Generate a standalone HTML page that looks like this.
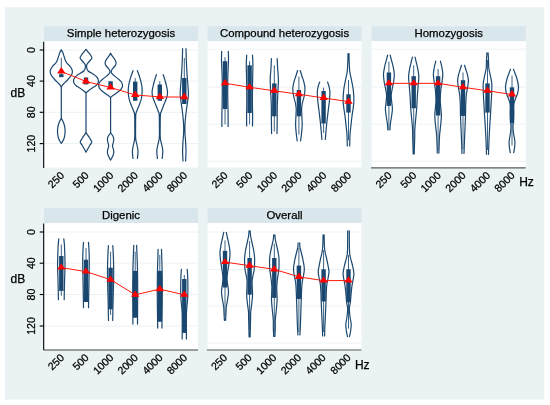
<!DOCTYPE html>
<html><head><meta charset="utf-8"><title>Audiogram violin plots</title>
<style>html,body{margin:0;padding:0;background:#fff}svg{display:block}</style></head>
<body>
<svg width="550" height="405" viewBox="0 0 550 405">
<rect x="0" y="0" width="550" height="405" fill="#ffffff"/>
<rect x="5" y="7.3" width="539.2" height="392.3" fill="#eaf2f3"/>
<rect x="44" y="26.2" width="154" height="15.000000000000004" fill="#d9e6eb"/>
<rect x="44" y="41.2" width="154" height="126.3" fill="#ffffff"/>
<line x1="44" y1="50" x2="198" y2="50" stroke="#ebf2f4" stroke-width="1"/>
<line x1="44" y1="81.1" x2="198" y2="81.1" stroke="#ebf2f4" stroke-width="1"/>
<line x1="44" y1="112.3" x2="198" y2="112.3" stroke="#ebf2f4" stroke-width="1"/>
<line x1="44" y1="143.6" x2="198" y2="143.6" stroke="#ebf2f4" stroke-width="1"/>
<text x="121.00" y="37.20" font-size="11.4" text-anchor="middle" fill="#000" font-family="'Liberation Sans', sans-serif" stroke="#000" stroke-width="0.25">Simple heterozygosis</text>
<line x1="61.30" y1="57.80" x2="61.30" y2="75.00" stroke="#1a476f" stroke-width="1.0" opacity="0.85"/>
<rect x="59.10" y="74.20" width="4.40" height="3.00" fill="#1a476f"/>
<path d="M61.30 49.80C61.07 50.22 60.29 51.42 59.90 52.30C59.51 53.18 59.25 54.18 58.95 55.10C58.65 56.02 58.39 56.88 58.10 57.80C57.81 58.72 57.63 59.67 57.20 60.60C56.77 61.53 56.25 62.48 55.50 63.40C54.75 64.32 53.47 65.18 52.70 66.10C51.93 67.02 51.32 67.97 50.90 68.90C50.48 69.83 50.20 70.78 50.20 71.70C50.20 72.62 50.48 73.48 50.90 74.40C51.32 75.32 52.00 76.27 52.70 77.20C53.40 78.13 54.25 79.08 55.10 80.00C55.95 80.92 57.00 81.90 57.80 82.70C58.60 83.50 59.32 84.10 59.90 84.80C60.48 85.50 61.07 86.55 61.30 86.90M61.30 49.80C61.53 50.22 62.31 51.42 62.70 52.30C63.09 53.18 63.35 54.18 63.65 55.10C63.95 56.02 64.21 56.88 64.50 57.80C64.79 58.72 64.97 59.67 65.40 60.60C65.83 61.53 66.35 62.48 67.10 63.40C67.85 64.32 69.13 65.18 69.90 66.10C70.67 67.02 71.28 67.97 71.70 68.90C72.12 69.83 72.40 70.78 72.40 71.70C72.40 72.62 72.12 73.48 71.70 74.40C71.28 75.32 70.60 76.27 69.90 77.20C69.20 78.13 68.35 79.08 67.50 80.00C66.65 80.92 65.60 81.90 64.80 82.70C64.00 83.50 63.28 84.10 62.70 84.80C62.12 85.50 61.53 86.55 61.30 86.90" fill="none" stroke="#1a476f" stroke-width="1.2" stroke-linecap="round"/>
<path d="M61.30 86.90C61.30 92.15 61.30 113.15 61.30 118.40M61.30 86.90C61.30 92.15 61.30 113.15 61.30 118.40" fill="none" stroke="#1a476f" stroke-width="1.2" stroke-linecap="round"/>
<path d="M61.30 118.40C61.05 118.83 60.25 120.07 59.80 121.00C59.35 121.93 58.93 122.92 58.60 124.00C58.27 125.08 57.98 126.28 57.80 127.50C57.62 128.72 57.50 130.05 57.50 131.30C57.50 132.55 57.62 133.80 57.80 135.00C57.98 136.20 58.25 137.45 58.60 138.50C58.95 139.55 59.45 140.50 59.90 141.30C60.35 142.10 61.07 142.97 61.30 143.30M61.30 118.40C61.55 118.83 62.35 120.07 62.80 121.00C63.25 121.93 63.67 122.92 64.00 124.00C64.33 125.08 64.62 126.28 64.80 127.50C64.98 128.72 65.10 130.05 65.10 131.30C65.10 132.55 64.98 133.80 64.80 135.00C64.62 136.20 64.35 137.45 64.00 138.50C63.65 139.55 63.15 140.50 62.70 141.30C62.25 142.10 61.53 142.97 61.30 143.30" fill="none" stroke="#1a476f" stroke-width="1.2" stroke-linecap="round"/>
<rect x="83.80" y="77.50" width="4.40" height="6.90" fill="#1a476f"/>
<path d="M86.00 49.30C85.70 49.68 84.88 50.75 84.20 51.60C83.52 52.45 82.58 53.40 81.90 54.40C81.22 55.40 80.18 56.68 80.10 57.60C80.02 58.52 80.78 59.05 81.40 59.90C82.02 60.75 83.17 61.90 83.80 62.70C84.43 63.50 84.95 63.85 85.20 64.70C85.45 65.55 85.53 66.75 85.30 67.80C85.07 68.85 84.57 70.13 83.80 71.00C83.03 71.87 81.78 72.32 80.70 73.00C79.62 73.68 78.33 74.28 77.30 75.10C76.27 75.92 75.12 76.98 74.50 77.90C73.88 78.82 73.72 79.80 73.60 80.60C73.48 81.40 73.42 81.88 73.80 82.70C74.18 83.52 74.85 84.58 75.90 85.50C76.95 86.42 78.78 87.28 80.10 88.20C81.42 89.12 82.82 90.25 83.80 91.00C84.78 91.75 85.63 92.42 86.00 92.70M86.00 49.30C86.30 49.68 87.12 50.75 87.80 51.60C88.48 52.45 89.42 53.40 90.10 54.40C90.78 55.40 91.82 56.68 91.90 57.60C91.98 58.52 91.22 59.05 90.60 59.90C89.98 60.75 88.83 61.90 88.20 62.70C87.57 63.50 87.05 63.85 86.80 64.70C86.55 65.55 86.47 66.75 86.70 67.80C86.93 68.85 87.43 70.13 88.20 71.00C88.97 71.87 90.22 72.32 91.30 73.00C92.38 73.68 93.67 74.28 94.70 75.10C95.73 75.92 96.88 76.98 97.50 77.90C98.12 78.82 98.28 79.80 98.40 80.60C98.52 81.40 98.58 81.88 98.20 82.70C97.82 83.52 97.15 84.58 96.10 85.50C95.05 86.42 93.22 87.28 91.90 88.20C90.58 89.12 89.18 90.25 88.20 91.00C87.22 91.75 86.37 92.42 86.00 92.70" fill="none" stroke="#1a476f" stroke-width="1.2" stroke-linecap="round"/>
<path d="M86.00 92.70C86.00 99.40 86.00 126.20 86.00 132.90M86.00 92.70C86.00 99.40 86.00 126.20 86.00 132.90" fill="none" stroke="#1a476f" stroke-width="1.2" stroke-linecap="round"/>
<path d="M86.00 132.90C85.73 133.25 85.00 134.15 84.40 135.00C83.80 135.85 83.10 136.83 82.40 138.00C81.70 139.17 80.27 140.83 80.20 142.00C80.13 143.17 81.42 144.00 82.00 145.00C82.58 146.00 83.18 147.08 83.70 148.00C84.22 148.92 84.72 149.82 85.10 150.50C85.48 151.18 85.85 151.83 86.00 152.10M86.00 132.90C86.27 133.25 87.00 134.15 87.60 135.00C88.20 135.85 88.90 136.83 89.60 138.00C90.30 139.17 91.73 140.83 91.80 142.00C91.87 143.17 90.58 144.00 90.00 145.00C89.42 146.00 88.82 147.08 88.30 148.00C87.78 148.92 87.28 149.82 86.90 150.50C86.52 151.18 86.15 151.83 86.00 152.10" fill="none" stroke="#1a476f" stroke-width="1.2" stroke-linecap="round"/>
<rect x="108.40" y="81.30" width="4.40" height="7.60" fill="#1a476f"/>
<path d="M110.60 53.20C110.37 53.62 109.78 54.83 109.20 55.70C108.62 56.57 107.72 57.48 107.10 58.40C106.48 59.32 105.83 60.38 105.50 61.20C105.17 62.02 105.05 62.60 105.10 63.30C105.15 64.00 105.30 64.60 105.80 65.40C106.30 66.20 107.47 67.30 108.10 68.10C108.73 68.90 109.30 69.50 109.60 70.20C109.90 70.90 110.08 71.62 109.90 72.30C109.72 72.98 109.12 73.62 108.50 74.30C107.88 74.98 107.18 75.58 106.20 76.40C105.22 77.22 103.67 78.27 102.60 79.20C101.53 80.13 100.43 81.08 99.80 82.00C99.17 82.92 98.97 83.90 98.80 84.70C98.63 85.50 98.50 85.98 98.80 86.80C99.10 87.62 99.78 88.68 100.60 89.60C101.42 90.52 102.53 91.38 103.70 92.30C104.87 93.22 106.45 94.25 107.60 95.10C108.75 95.95 110.10 97.02 110.60 97.40M110.60 53.20C110.83 53.62 111.42 54.83 112.00 55.70C112.58 56.57 113.48 57.48 114.10 58.40C114.72 59.32 115.37 60.38 115.70 61.20C116.03 62.02 116.15 62.60 116.10 63.30C116.05 64.00 115.90 64.60 115.40 65.40C114.90 66.20 113.73 67.30 113.10 68.10C112.47 68.90 111.90 69.50 111.60 70.20C111.30 70.90 111.12 71.62 111.30 72.30C111.48 72.98 112.08 73.62 112.70 74.30C113.32 74.98 114.02 75.58 115.00 76.40C115.98 77.22 117.53 78.27 118.60 79.20C119.67 80.13 120.77 81.08 121.40 82.00C122.03 82.92 122.23 83.90 122.40 84.70C122.57 85.50 122.70 85.98 122.40 86.80C122.10 87.62 121.42 88.68 120.60 89.60C119.78 90.52 118.67 91.38 117.50 92.30C116.33 93.22 114.75 94.25 113.60 95.10C112.45 95.95 111.10 97.02 110.60 97.40" fill="none" stroke="#1a476f" stroke-width="1.2" stroke-linecap="round"/>
<path d="M110.60 97.40C110.60 103.32 110.60 126.98 110.60 132.90M110.60 97.40C110.60 103.32 110.60 126.98 110.60 132.90" fill="none" stroke="#1a476f" stroke-width="1.2" stroke-linecap="round"/>
<path d="M110.60 132.90C110.40 133.17 109.82 133.90 109.40 134.50C108.98 135.10 108.43 135.70 108.10 136.50C107.77 137.30 107.43 138.30 107.40 139.30C107.37 140.30 107.68 141.43 107.90 142.50C108.12 143.57 108.70 144.62 108.70 145.70C108.70 146.78 108.12 147.93 107.90 149.00C107.68 150.07 107.38 151.10 107.40 152.10C107.42 153.10 107.67 154.02 108.00 155.00C108.33 155.98 108.97 157.15 109.40 158.00C109.83 158.85 110.40 159.75 110.60 160.10M110.60 132.90C110.80 133.17 111.38 133.90 111.80 134.50C112.22 135.10 112.77 135.70 113.10 136.50C113.43 137.30 113.77 138.30 113.80 139.30C113.83 140.30 113.52 141.43 113.30 142.50C113.08 143.57 112.50 144.62 112.50 145.70C112.50 146.78 113.08 147.93 113.30 149.00C113.52 150.07 113.82 151.10 113.80 152.10C113.78 153.10 113.53 154.02 113.20 155.00C112.87 155.98 112.23 157.15 111.80 158.00C111.37 158.85 110.80 159.75 110.60 160.10" fill="none" stroke="#1a476f" stroke-width="1.2" stroke-linecap="round"/>
<line x1="135.20" y1="78.10" x2="135.20" y2="100.00" stroke="#1a476f" stroke-width="1.0" opacity="0.85"/>
<rect x="133.00" y="81.70" width="4.40" height="19.10" fill="#1a476f"/>
<path d="M133.10 70.60C132.90 71.12 132.33 72.50 131.90 73.70C131.47 74.90 130.92 76.42 130.50 77.80C130.08 79.18 129.75 80.38 129.40 82.00C129.05 83.62 128.58 85.67 128.40 87.50C128.22 89.33 128.20 91.17 128.30 93.00C128.40 94.83 128.65 96.83 129.00 98.50C129.35 100.17 129.90 101.58 130.40 103.00C130.90 104.42 131.47 105.67 132.00 107.00C132.53 108.33 133.17 109.77 133.60 111.00C134.03 112.23 134.40 111.90 134.60 114.40C134.80 116.90 134.78 121.98 134.80 126.00C134.82 130.02 134.93 135.33 134.70 138.50C134.47 141.67 133.78 142.87 133.40 145.00C133.02 147.13 132.47 149.05 132.40 151.30C132.33 153.55 132.90 157.30 133.00 158.50M137.30 70.60C137.50 71.12 138.07 72.50 138.50 73.70C138.93 74.90 139.48 76.42 139.90 77.80C140.32 79.18 140.65 80.38 141.00 82.00C141.35 83.62 141.82 85.67 142.00 87.50C142.18 89.33 142.20 91.17 142.10 93.00C142.00 94.83 141.75 96.83 141.40 98.50C141.05 100.17 140.50 101.58 140.00 103.00C139.50 104.42 138.93 105.67 138.40 107.00C137.87 108.33 137.23 109.77 136.80 111.00C136.37 112.23 136.00 111.90 135.80 114.40C135.60 116.90 135.62 121.98 135.60 126.00C135.58 130.02 135.47 135.33 135.70 138.50C135.93 141.67 136.62 142.87 137.00 145.00C137.38 147.13 137.93 149.05 138.00 151.30C138.07 153.55 137.50 157.30 137.40 158.50" fill="none" stroke="#1a476f" stroke-width="1.2" stroke-linecap="round"/>
<line x1="159.80" y1="81.30" x2="159.80" y2="100.00" stroke="#1a476f" stroke-width="1.0" opacity="0.85"/>
<rect x="157.60" y="84.50" width="4.40" height="16.30" fill="#1a476f"/>
<path d="M156.40 74.60C156.22 75.17 155.68 76.77 155.30 78.00C154.92 79.23 154.47 80.67 154.10 82.00C153.73 83.33 153.43 84.38 153.10 86.00C152.77 87.62 152.20 90.03 152.10 91.70C152.00 93.37 152.22 94.62 152.50 96.00C152.78 97.38 153.32 98.67 153.80 100.00C154.28 101.33 154.87 102.67 155.40 104.00C155.93 105.33 156.52 106.75 157.00 108.00C157.48 109.25 157.93 110.43 158.30 111.50C158.67 112.57 159.02 111.98 159.20 114.40C159.38 116.82 159.38 122.07 159.40 126.00C159.42 129.93 159.57 134.83 159.30 138.00C159.03 141.17 158.22 142.83 157.80 145.00C157.38 147.17 156.87 148.75 156.80 151.00C156.73 153.25 157.30 157.25 157.40 158.50M163.20 74.60C163.38 75.17 163.92 76.77 164.30 78.00C164.68 79.23 165.13 80.67 165.50 82.00C165.87 83.33 166.17 84.38 166.50 86.00C166.83 87.62 167.40 90.03 167.50 91.70C167.60 93.37 167.38 94.62 167.10 96.00C166.82 97.38 166.28 98.67 165.80 100.00C165.32 101.33 164.73 102.67 164.20 104.00C163.67 105.33 163.08 106.75 162.60 108.00C162.12 109.25 161.67 110.43 161.30 111.50C160.93 112.57 160.58 111.98 160.40 114.40C160.22 116.82 160.22 122.07 160.20 126.00C160.18 129.93 160.03 134.83 160.30 138.00C160.57 141.17 161.38 142.83 161.80 145.00C162.22 147.17 162.73 148.75 162.80 151.00C162.87 153.25 162.30 157.25 162.20 158.50" fill="none" stroke="#1a476f" stroke-width="1.2" stroke-linecap="round"/>
<line x1="184.30" y1="58.00" x2="184.30" y2="104.00" stroke="#1a476f" stroke-width="1.0" opacity="0.85"/>
<rect x="182.10" y="78.00" width="4.40" height="26.00" fill="#1a476f"/>
<path d="M182.60 48.70C182.55 50.58 182.48 55.62 182.30 60.00C182.12 64.38 181.85 69.50 181.50 75.00C181.15 80.50 180.32 88.83 180.20 93.00C180.08 97.17 180.47 97.17 180.80 100.00C181.13 102.83 181.78 106.67 182.20 110.00C182.62 113.33 183.05 117.17 183.30 120.00C183.55 122.83 183.65 124.67 183.70 127.00C183.75 129.33 183.70 131.83 183.60 134.00C183.50 136.17 183.27 137.17 183.10 140.00C182.93 142.83 182.62 147.50 182.60 151.00C182.58 154.50 182.93 159.33 183.00 161.00M186.00 48.70C186.05 50.58 186.12 55.62 186.30 60.00C186.48 64.38 186.75 69.50 187.10 75.00C187.45 80.50 188.28 88.83 188.40 93.00C188.52 97.17 188.13 97.17 187.80 100.00C187.47 102.83 186.82 106.67 186.40 110.00C185.98 113.33 185.55 117.17 185.30 120.00C185.05 122.83 184.95 124.67 184.90 127.00C184.85 129.33 184.90 131.83 185.00 134.00C185.10 136.17 185.33 137.17 185.50 140.00C185.67 142.83 185.98 147.50 186.00 151.00C186.02 154.50 185.67 159.33 185.60 161.00" fill="none" stroke="#1a476f" stroke-width="1.2" stroke-linecap="round"/>
<polyline points="61.30,71.52 86.00,81.48 110.60,87.52 135.20,94.95 159.80,96.92 184.30,97.12" fill="none" stroke="#ff1a0a" stroke-width="1.0"/>
<polygon points="61.30,67.10 57.10,73.60 65.50,73.60" fill="#ff0000"/>
<polygon points="86.00,77.20 81.80,83.50 90.20,83.50" fill="#ff0000"/>
<polygon points="110.60,83.30 106.40,89.50 114.80,89.50" fill="#ff0000"/>
<polygon points="135.20,90.60 131.00,97.00 139.40,97.00" fill="#ff0000"/>
<polygon points="159.80,92.50 155.60,99.00 164.00,99.00" fill="#ff0000"/>
<polygon points="184.30,92.50 180.10,99.30 188.50,99.30" fill="#ff0000"/>
<line x1="43.7" y1="41.7" x2="43.7" y2="168.0" stroke="#000" stroke-width="1.1"/>
<line x1="39.7" y1="50" x2="44" y2="50" stroke="#000" stroke-width="1.1"/>
<text transform="translate(34.50 50.00) rotate(-90)" font-size="10.6" text-anchor="middle" fill="#000" font-family="'Liberation Sans', sans-serif" stroke="#000" stroke-width="0.25">0</text>
<line x1="39.7" y1="81.1" x2="44" y2="81.1" stroke="#000" stroke-width="1.1"/>
<text transform="translate(34.50 81.10) rotate(-90)" font-size="10.6" text-anchor="middle" fill="#000" font-family="'Liberation Sans', sans-serif" stroke="#000" stroke-width="0.25">40</text>
<line x1="39.7" y1="112.3" x2="44" y2="112.3" stroke="#000" stroke-width="1.1"/>
<text transform="translate(34.50 112.30) rotate(-90)" font-size="10.6" text-anchor="middle" fill="#000" font-family="'Liberation Sans', sans-serif" stroke="#000" stroke-width="0.25">80</text>
<line x1="39.7" y1="143.6" x2="44" y2="143.6" stroke="#000" stroke-width="1.1"/>
<text transform="translate(34.50 143.60) rotate(-90)" font-size="10.6" text-anchor="middle" fill="#000" font-family="'Liberation Sans', sans-serif" stroke="#000" stroke-width="0.25">120</text>
<text x="10.5" y="97" font-size="12" fill="#000" font-family="'Liberation Sans', sans-serif" stroke="#000" stroke-width="0.25">dB</text>
<text transform="translate(64.80 176.20) rotate(-45)" font-size="10.6" text-anchor="end" fill="#000" font-family="'Liberation Sans', sans-serif" stroke="#000" stroke-width="0.25">250</text>
<text transform="translate(89.50 176.20) rotate(-45)" font-size="10.6" text-anchor="end" fill="#000" font-family="'Liberation Sans', sans-serif" stroke="#000" stroke-width="0.25">500</text>
<text transform="translate(114.10 176.20) rotate(-45)" font-size="10.6" text-anchor="end" fill="#000" font-family="'Liberation Sans', sans-serif" stroke="#000" stroke-width="0.25">1000</text>
<text transform="translate(138.70 176.20) rotate(-45)" font-size="10.6" text-anchor="end" fill="#000" font-family="'Liberation Sans', sans-serif" stroke="#000" stroke-width="0.25">2000</text>
<text transform="translate(163.30 176.20) rotate(-45)" font-size="10.6" text-anchor="end" fill="#000" font-family="'Liberation Sans', sans-serif" stroke="#000" stroke-width="0.25">4000</text>
<text transform="translate(187.80 176.20) rotate(-45)" font-size="10.6" text-anchor="end" fill="#000" font-family="'Liberation Sans', sans-serif" stroke="#000" stroke-width="0.25">8000</text>
<rect x="207.6" y="26.2" width="153.79999999999998" height="15.000000000000004" fill="#d9e6eb"/>
<rect x="207.6" y="41.2" width="153.79999999999998" height="126.3" fill="#ffffff"/>
<line x1="207.6" y1="49.2" x2="361.4" y2="49.2" stroke="#ebf2f4" stroke-width="1"/>
<line x1="207.6" y1="87" x2="361.4" y2="87" stroke="#ebf2f4" stroke-width="1"/>
<line x1="207.6" y1="124.2" x2="361.4" y2="124.2" stroke="#ebf2f4" stroke-width="1"/>
<line x1="207.6" y1="161.3" x2="361.4" y2="161.3" stroke="#ebf2f4" stroke-width="1"/>
<text x="284.50" y="37.20" font-size="11.4" text-anchor="middle" fill="#000" font-family="'Liberation Sans', sans-serif" stroke="#000" stroke-width="0.25">Compound heterozygosis</text>
<line x1="225.00" y1="57.20" x2="225.00" y2="124.30" stroke="#1a476f" stroke-width="1.0" opacity="0.85"/>
<rect x="222.80" y="61.20" width="4.40" height="47.80" fill="#1a476f"/>
<path d="M221.70 51.30C221.67 52.75 221.43 56.22 221.50 60.00C221.57 63.78 221.97 69.83 222.10 74.00C222.23 78.17 222.28 80.67 222.30 85.00C222.32 89.33 222.27 95.00 222.20 100.00C222.13 105.00 221.95 110.60 221.90 115.00C221.85 119.40 221.90 124.50 221.90 126.40M228.30 51.30C228.33 52.75 228.57 56.22 228.50 60.00C228.43 63.78 228.03 69.83 227.90 74.00C227.77 78.17 227.72 80.67 227.70 85.00C227.68 89.33 227.73 95.00 227.80 100.00C227.87 105.00 228.05 110.60 228.10 115.00C228.15 119.40 228.10 124.50 228.10 126.40" fill="none" stroke="#1a476f" stroke-width="1.2" stroke-linecap="round"/>
<line x1="249.60" y1="61.20" x2="249.60" y2="124.30" stroke="#1a476f" stroke-width="1.0" opacity="0.85"/>
<rect x="247.40" y="65.30" width="4.40" height="47.70" fill="#1a476f"/>
<path d="M246.70 55.20C246.63 56.83 246.32 60.87 246.30 65.00C246.28 69.13 246.52 74.17 246.60 80.00C246.68 85.83 246.80 94.17 246.80 100.00C246.80 105.83 246.62 110.68 246.60 115.00C246.58 119.32 246.68 124.08 246.70 125.90M252.50 55.20C252.57 56.83 252.88 60.87 252.90 65.00C252.92 69.13 252.68 74.17 252.60 80.00C252.52 85.83 252.40 94.17 252.40 100.00C252.40 105.83 252.58 110.68 252.60 115.00C252.62 119.32 252.52 124.08 252.50 125.90" fill="none" stroke="#1a476f" stroke-width="1.2" stroke-linecap="round"/>
<line x1="274.30" y1="65.30" x2="274.30" y2="131.50" stroke="#1a476f" stroke-width="1.0" opacity="0.85"/>
<rect x="272.10" y="83.40" width="4.40" height="32.90" fill="#1a476f"/>
<path d="M271.40 58.50C271.33 60.08 271.20 64.58 271.00 68.00C270.80 71.42 270.27 75.33 270.20 79.00C270.13 82.67 270.42 85.67 270.60 90.00C270.78 94.33 271.17 100.00 271.30 105.00C271.43 110.00 271.35 115.23 271.40 120.00C271.45 124.77 271.57 131.33 271.60 133.60M277.20 58.50C277.27 60.08 277.40 64.58 277.60 68.00C277.80 71.42 278.33 75.33 278.40 79.00C278.47 82.67 278.18 85.67 278.00 90.00C277.82 94.33 277.43 100.00 277.30 105.00C277.17 110.00 277.25 115.23 277.20 120.00C277.15 124.77 277.03 131.33 277.00 133.60" fill="none" stroke="#1a476f" stroke-width="1.2" stroke-linecap="round"/>
<line x1="298.90" y1="76.50" x2="298.90" y2="134.70" stroke="#1a476f" stroke-width="1.0" opacity="0.85"/>
<rect x="296.70" y="90.00" width="4.40" height="26.30" fill="#1a476f"/>
<path d="M297.60 70.50C297.32 71.42 296.52 74.08 295.90 76.00C295.28 77.92 294.42 79.92 293.90 82.00C293.38 84.08 292.85 86.17 292.80 88.50C292.75 90.83 293.17 93.58 293.60 96.00C294.03 98.42 294.97 100.83 295.40 103.00C295.83 105.17 296.12 106.67 296.20 109.00C296.28 111.33 296.00 114.33 295.90 117.00C295.80 119.67 295.55 122.33 295.60 125.00C295.65 127.67 295.93 130.37 296.20 133.00C296.47 135.63 297.03 139.50 297.20 140.80M300.20 70.50C300.48 71.42 301.28 74.08 301.90 76.00C302.52 77.92 303.38 79.92 303.90 82.00C304.42 84.08 304.95 86.17 305.00 88.50C305.05 90.83 304.63 93.58 304.20 96.00C303.77 98.42 302.83 100.83 302.40 103.00C301.97 105.17 301.68 106.67 301.60 109.00C301.52 111.33 301.80 114.33 301.90 117.00C302.00 119.67 302.25 122.33 302.20 125.00C302.15 127.67 301.87 130.37 301.60 133.00C301.33 135.63 300.77 139.50 300.60 140.80" fill="none" stroke="#1a476f" stroke-width="1.2" stroke-linecap="round"/>
<line x1="323.60" y1="87.70" x2="323.60" y2="133.00" stroke="#1a476f" stroke-width="1.0" opacity="0.85"/>
<rect x="321.40" y="91.00" width="4.40" height="32.50" fill="#1a476f"/>
<path d="M319.70 82.00C319.47 82.67 318.70 84.38 318.30 86.00C317.90 87.62 317.40 89.37 317.30 91.70C317.20 94.03 317.43 96.95 317.70 100.00C317.97 103.05 318.50 106.67 318.90 110.00C319.30 113.33 319.73 116.67 320.10 120.00C320.47 123.33 320.80 126.75 321.10 130.00C321.40 133.25 321.77 137.92 321.90 139.50M327.50 82.00C327.73 82.67 328.50 84.38 328.90 86.00C329.30 87.62 329.80 89.37 329.90 91.70C330.00 94.03 329.77 96.95 329.50 100.00C329.23 103.05 328.70 106.67 328.30 110.00C327.90 113.33 327.47 116.67 327.10 120.00C326.73 123.33 326.40 126.75 326.10 130.00C325.80 133.25 325.43 137.92 325.30 139.50" fill="none" stroke="#1a476f" stroke-width="1.2" stroke-linecap="round"/>
<line x1="348.50" y1="80.00" x2="348.50" y2="140.30" stroke="#1a476f" stroke-width="1.0" opacity="0.85"/>
<rect x="346.30" y="94.30" width="4.40" height="18.30" fill="#1a476f"/>
<path d="M348.00 53.50C347.98 54.58 347.97 57.92 347.90 60.00C347.83 62.08 347.72 64.00 347.60 66.00C347.48 68.00 347.55 69.67 347.20 72.00C346.85 74.33 346.03 77.33 345.50 80.00C344.97 82.67 344.37 85.50 344.00 88.00C343.63 90.50 343.45 92.83 343.30 95.00C343.15 97.17 343.02 98.83 343.10 101.00C343.18 103.17 343.48 105.50 343.80 108.00C344.12 110.50 344.63 113.17 345.00 116.00C345.37 118.83 345.67 121.83 346.00 125.00C346.33 128.17 346.78 131.50 347.00 135.00C347.22 138.50 347.25 144.17 347.30 146.00M349.00 53.50C349.02 54.58 349.03 57.92 349.10 60.00C349.17 62.08 349.28 64.00 349.40 66.00C349.52 68.00 349.45 69.67 349.80 72.00C350.15 74.33 350.97 77.33 351.50 80.00C352.03 82.67 352.63 85.50 353.00 88.00C353.37 90.50 353.55 92.83 353.70 95.00C353.85 97.17 353.98 98.83 353.90 101.00C353.82 103.17 353.52 105.50 353.20 108.00C352.88 110.50 352.37 113.17 352.00 116.00C351.63 118.83 351.33 121.83 351.00 125.00C350.67 128.17 350.22 131.50 350.00 135.00C349.78 138.50 349.75 144.17 349.70 146.00" fill="none" stroke="#1a476f" stroke-width="1.2" stroke-linecap="round"/>
<polyline points="225.00,83.25 249.60,87.25 274.30,90.82 298.90,94.22 323.60,97.95 348.50,101.65" fill="none" stroke="#ff1a0a" stroke-width="1.0"/>
<polygon points="225.00,78.90 220.80,85.30 229.20,85.30" fill="#ff0000"/>
<polygon points="249.60,82.90 245.40,89.30 253.80,89.30" fill="#ff0000"/>
<polygon points="274.30,86.60 270.10,92.80 278.50,92.80" fill="#ff0000"/>
<polygon points="298.90,90.00 294.70,96.20 303.10,96.20" fill="#ff0000"/>
<polygon points="323.60,93.60 319.40,100.00 327.80,100.00" fill="#ff0000"/>
<polygon points="348.50,97.30 344.30,103.70 352.70,103.70" fill="#ff0000"/>
<text transform="translate(228.50 176.20) rotate(-45)" font-size="10.6" text-anchor="end" fill="#000" font-family="'Liberation Sans', sans-serif" stroke="#000" stroke-width="0.25">250</text>
<text transform="translate(253.10 176.20) rotate(-45)" font-size="10.6" text-anchor="end" fill="#000" font-family="'Liberation Sans', sans-serif" stroke="#000" stroke-width="0.25">500</text>
<text transform="translate(277.80 176.20) rotate(-45)" font-size="10.6" text-anchor="end" fill="#000" font-family="'Liberation Sans', sans-serif" stroke="#000" stroke-width="0.25">1000</text>
<text transform="translate(302.40 176.20) rotate(-45)" font-size="10.6" text-anchor="end" fill="#000" font-family="'Liberation Sans', sans-serif" stroke="#000" stroke-width="0.25">2000</text>
<text transform="translate(327.10 176.20) rotate(-45)" font-size="10.6" text-anchor="end" fill="#000" font-family="'Liberation Sans', sans-serif" stroke="#000" stroke-width="0.25">4000</text>
<text transform="translate(352.00 176.20) rotate(-45)" font-size="10.6" text-anchor="end" fill="#000" font-family="'Liberation Sans', sans-serif" stroke="#000" stroke-width="0.25">8000</text>
<rect x="371.7" y="26.2" width="154.00000000000006" height="15.000000000000004" fill="#d9e6eb"/>
<rect x="371.7" y="41.2" width="154.00000000000006" height="126.3" fill="#ffffff"/>
<line x1="371.7" y1="49.2" x2="525.7" y2="49.2" stroke="#ebf2f4" stroke-width="1"/>
<line x1="371.7" y1="87" x2="525.7" y2="87" stroke="#ebf2f4" stroke-width="1"/>
<line x1="371.7" y1="124.2" x2="525.7" y2="124.2" stroke="#ebf2f4" stroke-width="1"/>
<line x1="371.7" y1="161.3" x2="525.7" y2="161.3" stroke="#ebf2f4" stroke-width="1"/>
<text x="448.70" y="37.20" font-size="11.4" text-anchor="middle" fill="#000" font-family="'Liberation Sans', sans-serif" stroke="#000" stroke-width="0.25">Homozygosis</text>
<line x1="388.90" y1="61.60" x2="388.90" y2="130.00" stroke="#1a476f" stroke-width="1.0" opacity="0.85"/>
<rect x="386.70" y="72.50" width="4.40" height="33.40" fill="#1a476f"/>
<path d="M387.60 55.20C387.40 56.00 386.87 58.20 386.40 60.00C385.93 61.80 385.28 63.67 384.80 66.00C384.32 68.33 383.60 71.33 383.50 74.00C383.40 76.67 383.85 79.50 384.20 82.00C384.55 84.50 385.20 86.83 385.60 89.00C386.00 91.17 386.50 93.00 386.60 95.00C386.70 97.00 386.40 98.67 386.20 101.00C386.00 103.33 385.40 106.50 385.40 109.00C385.40 111.50 385.87 113.50 386.20 116.00C386.53 118.50 387.12 121.67 387.40 124.00C387.68 126.33 387.82 129.00 387.90 130.00M390.20 55.20C390.40 56.00 390.93 58.20 391.40 60.00C391.87 61.80 392.52 63.67 393.00 66.00C393.48 68.33 394.20 71.33 394.30 74.00C394.40 76.67 393.95 79.50 393.60 82.00C393.25 84.50 392.60 86.83 392.20 89.00C391.80 91.17 391.30 93.00 391.20 95.00C391.10 97.00 391.40 98.67 391.60 101.00C391.80 103.33 392.40 106.50 392.40 109.00C392.40 111.50 391.93 113.50 391.60 116.00C391.27 118.50 390.68 121.67 390.40 124.00C390.12 126.33 389.98 129.00 389.90 130.00" fill="none" stroke="#1a476f" stroke-width="1.2" stroke-linecap="round"/>
<line x1="413.70" y1="65.30" x2="413.70" y2="150.00" stroke="#1a476f" stroke-width="1.0" opacity="0.85"/>
<rect x="411.50" y="76.20" width="4.40" height="32.10" fill="#1a476f"/>
<path d="M412.40 57.20C412.20 58.00 411.67 60.03 411.20 62.00C410.73 63.97 410.03 66.58 409.60 69.00C409.17 71.42 408.67 73.83 408.60 76.50C408.53 79.17 408.97 81.92 409.20 85.00C409.43 88.08 409.75 91.17 410.00 95.00C410.25 98.83 410.40 103.83 410.70 108.00C411.00 112.17 411.48 116.33 411.80 120.00C412.12 123.67 412.45 127.00 412.60 130.00C412.75 133.00 412.60 134.02 412.70 138.00C412.80 141.98 413.12 151.25 413.20 153.90M415.00 57.20C415.20 58.00 415.73 60.03 416.20 62.00C416.67 63.97 417.37 66.58 417.80 69.00C418.23 71.42 418.73 73.83 418.80 76.50C418.87 79.17 418.43 81.92 418.20 85.00C417.97 88.08 417.65 91.17 417.40 95.00C417.15 98.83 417.00 103.83 416.70 108.00C416.40 112.17 415.92 116.33 415.60 120.00C415.28 123.67 414.95 127.00 414.80 130.00C414.65 133.00 414.80 134.02 414.70 138.00C414.60 141.98 414.28 151.25 414.20 153.90" fill="none" stroke="#1a476f" stroke-width="1.2" stroke-linecap="round"/>
<line x1="438.10" y1="69.00" x2="438.10" y2="150.00" stroke="#1a476f" stroke-width="1.0" opacity="0.85"/>
<rect x="435.90" y="76.20" width="4.40" height="39.30" fill="#1a476f"/>
<path d="M435.80 61.20C435.60 62.00 435.00 63.87 434.60 66.00C434.20 68.13 433.47 71.33 433.40 74.00C433.33 76.67 433.87 79.33 434.20 82.00C434.53 84.67 435.10 87.00 435.40 90.00C435.70 93.00 436.00 97.00 436.00 100.00C436.00 103.00 435.60 105.42 435.40 108.00C435.20 110.58 434.80 112.83 434.80 115.50C434.80 118.17 435.10 120.75 435.40 124.00C435.70 127.25 436.32 131.33 436.60 135.00C436.88 138.67 436.98 142.98 437.10 146.00C437.22 149.02 437.27 151.92 437.30 153.10M440.40 61.20C440.60 62.00 441.20 63.87 441.60 66.00C442.00 68.13 442.73 71.33 442.80 74.00C442.87 76.67 442.33 79.33 442.00 82.00C441.67 84.67 441.10 87.00 440.80 90.00C440.50 93.00 440.20 97.00 440.20 100.00C440.20 103.00 440.60 105.42 440.80 108.00C441.00 110.58 441.40 112.83 441.40 115.50C441.40 118.17 441.10 120.75 440.80 124.00C440.50 127.25 439.88 131.33 439.60 135.00C439.32 138.67 439.22 142.98 439.10 146.00C438.98 149.02 438.93 151.92 438.90 153.10" fill="none" stroke="#1a476f" stroke-width="1.2" stroke-linecap="round"/>
<line x1="463.00" y1="72.50" x2="463.00" y2="149.50" stroke="#1a476f" stroke-width="1.0" opacity="0.85"/>
<rect x="460.80" y="80.20" width="4.40" height="35.70" fill="#1a476f"/>
<path d="M461.50 65.30C461.25 66.08 460.50 68.38 460.00 70.00C459.50 71.62 458.90 73.25 458.50 75.00C458.10 76.75 457.60 78.33 457.60 80.50C457.60 82.67 458.15 85.58 458.50 88.00C458.85 90.42 459.40 92.17 459.70 95.00C460.00 97.83 460.17 101.50 460.30 105.00C460.43 108.50 460.37 111.83 460.50 116.00C460.63 120.17 460.90 125.17 461.10 130.00C461.30 134.83 461.55 141.08 461.70 145.00C461.85 148.92 461.95 152.08 462.00 153.50M464.50 65.30C464.75 66.08 465.50 68.38 466.00 70.00C466.50 71.62 467.10 73.25 467.50 75.00C467.90 76.75 468.40 78.33 468.40 80.50C468.40 82.67 467.85 85.58 467.50 88.00C467.15 90.42 466.60 92.17 466.30 95.00C466.00 97.83 465.83 101.50 465.70 105.00C465.57 108.50 465.63 111.83 465.50 116.00C465.37 120.17 465.10 125.17 464.90 130.00C464.70 134.83 464.45 141.08 464.30 145.00C464.15 148.92 464.05 152.08 464.00 153.50" fill="none" stroke="#1a476f" stroke-width="1.2" stroke-linecap="round"/>
<line x1="487.50" y1="60.00" x2="487.50" y2="150.00" stroke="#1a476f" stroke-width="1.0" opacity="0.85"/>
<rect x="485.30" y="83.40" width="4.40" height="29.20" fill="#1a476f"/>
<path d="M486.90 52.90C486.83 54.08 486.62 57.48 486.50 60.00C486.38 62.52 486.52 65.33 486.20 68.00C485.88 70.67 485.10 73.38 484.60 76.00C484.10 78.62 483.40 80.53 483.20 83.70C483.00 86.87 483.27 91.45 483.40 95.00C483.53 98.55 483.83 102.07 484.00 105.00C484.17 107.93 484.20 109.27 484.40 112.60C484.60 115.93 484.93 120.43 485.20 125.00C485.47 129.57 485.78 135.12 486.00 140.00C486.22 144.88 486.42 151.92 486.50 154.30M488.10 52.90C488.17 54.08 488.38 57.48 488.50 60.00C488.62 62.52 488.48 65.33 488.80 68.00C489.12 70.67 489.90 73.38 490.40 76.00C490.90 78.62 491.60 80.53 491.80 83.70C492.00 86.87 491.73 91.45 491.60 95.00C491.47 98.55 491.17 102.07 491.00 105.00C490.83 107.93 490.80 109.27 490.60 112.60C490.40 115.93 490.07 120.43 489.80 125.00C489.53 129.57 489.22 135.12 489.00 140.00C488.78 144.88 488.58 151.92 488.50 154.30" fill="none" stroke="#1a476f" stroke-width="1.2" stroke-linecap="round"/>
<line x1="512.00" y1="75.70" x2="512.00" y2="145.50" stroke="#1a476f" stroke-width="1.0" opacity="0.85"/>
<rect x="509.80" y="87.40" width="4.40" height="35.60" fill="#1a476f"/>
<path d="M510.50 69.30C510.20 70.08 509.33 72.22 508.70 74.00C508.07 75.78 507.23 77.85 506.70 80.00C506.17 82.15 505.57 84.73 505.50 86.90C505.43 89.07 505.80 90.98 506.30 93.00C506.80 95.02 507.83 97.07 508.50 99.00C509.17 100.93 510.00 101.93 510.30 104.60C510.60 107.27 510.23 111.93 510.30 115.00C510.37 118.07 510.58 121.00 510.70 123.00C510.82 125.00 511.03 125.33 511.00 127.00C510.97 128.67 510.82 130.58 510.50 133.00C510.18 135.42 509.27 139.00 509.10 141.50C508.93 144.00 509.30 146.13 509.50 148.00C509.70 149.87 510.17 151.92 510.30 152.70M513.50 69.30C513.80 70.08 514.67 72.22 515.30 74.00C515.93 75.78 516.77 77.85 517.30 80.00C517.83 82.15 518.43 84.73 518.50 86.90C518.57 89.07 518.20 90.98 517.70 93.00C517.20 95.02 516.17 97.07 515.50 99.00C514.83 100.93 514.00 101.93 513.70 104.60C513.40 107.27 513.77 111.93 513.70 115.00C513.63 118.07 513.42 121.00 513.30 123.00C513.18 125.00 512.97 125.33 513.00 127.00C513.03 128.67 513.18 130.58 513.50 133.00C513.82 135.42 514.73 139.00 514.90 141.50C515.07 144.00 514.70 146.13 514.50 148.00C514.30 149.87 513.83 151.92 513.70 152.70" fill="none" stroke="#1a476f" stroke-width="1.2" stroke-linecap="round"/>
<polyline points="388.90,83.35 413.70,83.35 438.10,83.35 463.00,87.25 487.50,90.82 512.00,94.45" fill="none" stroke="#ff1a0a" stroke-width="1.0"/>
<polygon points="388.90,79.20 384.70,85.30 393.10,85.30" fill="#ff0000"/>
<polygon points="413.70,79.20 409.50,85.30 417.90,85.30" fill="#ff0000"/>
<polygon points="438.10,79.20 433.90,85.30 442.30,85.30" fill="#ff0000"/>
<polygon points="463.00,82.90 458.80,89.30 467.20,89.30" fill="#ff0000"/>
<polygon points="487.50,86.60 483.30,92.80 491.70,92.80" fill="#ff0000"/>
<polygon points="512.00,90.10 507.80,96.50 516.20,96.50" fill="#ff0000"/>
<line x1="371.09999999999997" y1="167.9" x2="525.7" y2="167.9" stroke="#5a5a5a" stroke-width="1.1"/>
<text transform="translate(392.40 176.20) rotate(-45)" font-size="10.6" text-anchor="end" fill="#000" font-family="'Liberation Sans', sans-serif" stroke="#000" stroke-width="0.25">250</text>
<text transform="translate(417.20 176.20) rotate(-45)" font-size="10.6" text-anchor="end" fill="#000" font-family="'Liberation Sans', sans-serif" stroke="#000" stroke-width="0.25">500</text>
<text transform="translate(441.60 176.20) rotate(-45)" font-size="10.6" text-anchor="end" fill="#000" font-family="'Liberation Sans', sans-serif" stroke="#000" stroke-width="0.25">1000</text>
<text transform="translate(466.50 176.20) rotate(-45)" font-size="10.6" text-anchor="end" fill="#000" font-family="'Liberation Sans', sans-serif" stroke="#000" stroke-width="0.25">2000</text>
<text transform="translate(491.00 176.20) rotate(-45)" font-size="10.6" text-anchor="end" fill="#000" font-family="'Liberation Sans', sans-serif" stroke="#000" stroke-width="0.25">4000</text>
<text transform="translate(515.50 176.20) rotate(-45)" font-size="10.6" text-anchor="end" fill="#000" font-family="'Liberation Sans', sans-serif" stroke="#000" stroke-width="0.25">8000</text>
<text x="519.2" y="186.1" font-size="12" fill="#000" font-family="'Liberation Sans', sans-serif" stroke="#000" stroke-width="0.25">Hz</text>
<rect x="44" y="208" width="154" height="15" fill="#d9e6eb"/>
<rect x="44" y="223" width="154" height="126.60000000000002" fill="#ffffff"/>
<line x1="44" y1="232" x2="198" y2="232" stroke="#ebf2f4" stroke-width="1"/>
<line x1="44" y1="263.2" x2="198" y2="263.2" stroke="#ebf2f4" stroke-width="1"/>
<line x1="44" y1="294.5" x2="198" y2="294.5" stroke="#ebf2f4" stroke-width="1"/>
<line x1="44" y1="326" x2="198" y2="326" stroke="#ebf2f4" stroke-width="1"/>
<text x="121.00" y="219.00" font-size="11.4" text-anchor="middle" fill="#000" font-family="'Liberation Sans', sans-serif" stroke="#000" stroke-width="0.25">Digenic</text>
<line x1="61.30" y1="244.50" x2="61.30" y2="295.70" stroke="#1a476f" stroke-width="1.0" opacity="0.85"/>
<rect x="59.10" y="256.00" width="4.40" height="34.90" fill="#1a476f"/>
<path d="M58.80 238.80C58.70 239.83 58.37 242.30 58.20 245.00C58.03 247.70 57.90 251.67 57.80 255.00C57.70 258.33 57.57 260.83 57.60 265.00C57.63 269.17 57.88 275.50 58.00 280.00C58.12 284.50 58.23 288.72 58.30 292.00C58.37 295.28 58.38 298.42 58.40 299.70M63.80 238.80C63.90 239.83 64.23 242.30 64.40 245.00C64.57 247.70 64.70 251.67 64.80 255.00C64.90 258.33 65.03 260.83 65.00 265.00C64.97 269.17 64.72 275.50 64.60 280.00C64.48 284.50 64.37 288.72 64.30 292.00C64.23 295.28 64.22 298.42 64.20 299.70" fill="none" stroke="#1a476f" stroke-width="1.2" stroke-linecap="round"/>
<line x1="86.00" y1="248.00" x2="86.00" y2="302.00" stroke="#1a476f" stroke-width="1.0" opacity="0.85"/>
<rect x="83.80" y="259.70" width="4.40" height="42.30" fill="#1a476f"/>
<path d="M83.50 242.40C83.42 243.67 83.13 246.73 83.00 250.00C82.87 253.27 82.70 257.00 82.70 262.00C82.70 267.00 82.90 274.50 83.00 280.00C83.10 285.50 83.22 290.38 83.30 295.00C83.38 299.62 83.47 305.58 83.50 307.70M88.50 242.40C88.58 243.67 88.87 246.73 89.00 250.00C89.13 253.27 89.30 257.00 89.30 262.00C89.30 267.00 89.10 274.50 89.00 280.00C88.90 285.50 88.78 290.38 88.70 295.00C88.62 299.62 88.53 305.58 88.50 307.70" fill="none" stroke="#1a476f" stroke-width="1.2" stroke-linecap="round"/>
<line x1="110.60" y1="251.70" x2="110.60" y2="315.00" stroke="#1a476f" stroke-width="1.0" opacity="0.85"/>
<rect x="108.40" y="267.70" width="4.40" height="41.60" fill="#1a476f"/>
<path d="M108.40 245.70C108.32 247.25 108.05 250.95 107.90 255.00C107.75 259.05 107.53 265.00 107.50 270.00C107.47 275.00 107.60 280.00 107.70 285.00C107.80 290.00 107.97 294.08 108.10 300.00C108.23 305.92 108.43 317.08 108.50 320.50M112.80 245.70C112.88 247.25 113.15 250.95 113.30 255.00C113.45 259.05 113.67 265.00 113.70 270.00C113.73 275.00 113.60 280.00 113.50 285.00C113.40 290.00 113.23 294.08 113.10 300.00C112.97 305.92 112.77 317.08 112.70 320.50" fill="none" stroke="#1a476f" stroke-width="1.2" stroke-linecap="round"/>
<line x1="135.20" y1="251.70" x2="135.20" y2="317.70" stroke="#1a476f" stroke-width="1.0" opacity="0.85"/>
<rect x="133.00" y="270.90" width="4.40" height="46.80" fill="#1a476f"/>
<path d="M133.80 245.30C133.73 246.92 133.55 250.88 133.40 255.00C133.25 259.12 133.02 264.17 132.90 270.00C132.78 275.83 132.72 283.33 132.70 290.00C132.68 296.67 132.77 304.32 132.80 310.00C132.83 315.68 132.88 321.75 132.90 324.10M136.60 245.30C136.67 246.92 136.85 250.88 137.00 255.00C137.15 259.12 137.38 264.17 137.50 270.00C137.62 275.83 137.68 283.33 137.70 290.00C137.72 296.67 137.63 304.32 137.60 310.00C137.57 315.68 137.52 321.75 137.50 324.10" fill="none" stroke="#1a476f" stroke-width="1.2" stroke-linecap="round"/>
<line x1="159.80" y1="254.90" x2="159.80" y2="321.70" stroke="#1a476f" stroke-width="1.0" opacity="0.85"/>
<rect x="157.60" y="270.90" width="4.40" height="50.80" fill="#1a476f"/>
<path d="M158.10 249.30C158.05 251.08 157.92 255.72 157.80 260.00C157.68 264.28 157.48 269.17 157.40 275.00C157.32 280.83 157.28 288.33 157.30 295.00C157.32 301.67 157.43 309.48 157.50 315.00C157.57 320.52 157.67 325.92 157.70 328.10M161.50 249.30C161.55 251.08 161.68 255.72 161.80 260.00C161.92 264.28 162.12 269.17 162.20 275.00C162.28 280.83 162.32 288.33 162.30 295.00C162.28 301.67 162.17 309.48 162.10 315.00C162.03 320.52 161.93 325.92 161.90 328.10" fill="none" stroke="#1a476f" stroke-width="1.2" stroke-linecap="round"/>
<line x1="184.30" y1="275.00" x2="184.30" y2="332.90" stroke="#1a476f" stroke-width="1.0" opacity="0.85"/>
<rect x="182.10" y="279.00" width="4.40" height="53.90" fill="#1a476f"/>
<path d="M181.40 269.30C181.30 271.08 180.90 275.55 180.80 280.00C180.70 284.45 180.67 291.67 180.80 296.00C180.93 300.33 181.37 302.83 181.60 306.00C181.83 309.17 182.10 309.50 182.20 315.00C182.30 320.50 182.20 335.00 182.20 339.00M187.20 269.30C187.30 271.08 187.70 275.55 187.80 280.00C187.90 284.45 187.93 291.67 187.80 296.00C187.67 300.33 187.23 302.83 187.00 306.00C186.77 309.17 186.50 309.50 186.40 315.00C186.30 320.50 186.40 335.00 186.40 339.00" fill="none" stroke="#1a476f" stroke-width="1.2" stroke-linecap="round"/>
<polyline points="61.30,267.62 86.00,271.62 110.60,279.68 135.20,294.75 159.80,289.15 184.30,294.75" fill="none" stroke="#ff1a0a" stroke-width="1.0"/>
<polygon points="61.30,263.40 57.10,269.60 65.50,269.60" fill="#ff0000"/>
<polygon points="86.00,267.40 81.80,273.60 90.20,273.60" fill="#ff0000"/>
<polygon points="110.60,275.40 106.40,281.70 114.80,281.70" fill="#ff0000"/>
<polygon points="135.20,290.40 131.00,296.80 139.40,296.80" fill="#ff0000"/>
<polygon points="159.80,284.80 155.60,291.20 164.00,291.20" fill="#ff0000"/>
<polygon points="184.30,290.40 180.10,296.80 188.50,296.80" fill="#ff0000"/>
<line x1="43.7" y1="223.5" x2="43.7" y2="350.1" stroke="#000" stroke-width="1.1"/>
<line x1="39.7" y1="232" x2="44" y2="232" stroke="#000" stroke-width="1.1"/>
<text transform="translate(34.50 232.00) rotate(-90)" font-size="10.6" text-anchor="middle" fill="#000" font-family="'Liberation Sans', sans-serif" stroke="#000" stroke-width="0.25">0</text>
<line x1="39.7" y1="263.2" x2="44" y2="263.2" stroke="#000" stroke-width="1.1"/>
<text transform="translate(34.50 263.20) rotate(-90)" font-size="10.6" text-anchor="middle" fill="#000" font-family="'Liberation Sans', sans-serif" stroke="#000" stroke-width="0.25">40</text>
<line x1="39.7" y1="294.5" x2="44" y2="294.5" stroke="#000" stroke-width="1.1"/>
<text transform="translate(34.50 294.50) rotate(-90)" font-size="10.6" text-anchor="middle" fill="#000" font-family="'Liberation Sans', sans-serif" stroke="#000" stroke-width="0.25">80</text>
<line x1="39.7" y1="326" x2="44" y2="326" stroke="#000" stroke-width="1.1"/>
<text transform="translate(34.50 326.00) rotate(-90)" font-size="10.6" text-anchor="middle" fill="#000" font-family="'Liberation Sans', sans-serif" stroke="#000" stroke-width="0.25">120</text>
<text x="10.5" y="282.8" font-size="12" fill="#000" font-family="'Liberation Sans', sans-serif" stroke="#000" stroke-width="0.25">dB</text>
<line x1="43.4" y1="350.0" x2="198" y2="350.0" stroke="#444" stroke-width="1.1"/>
<text transform="translate(64.80 358.30) rotate(-45)" font-size="10.6" text-anchor="end" fill="#000" font-family="'Liberation Sans', sans-serif" stroke="#000" stroke-width="0.25">250</text>
<text transform="translate(89.50 358.30) rotate(-45)" font-size="10.6" text-anchor="end" fill="#000" font-family="'Liberation Sans', sans-serif" stroke="#000" stroke-width="0.25">500</text>
<text transform="translate(114.10 358.30) rotate(-45)" font-size="10.6" text-anchor="end" fill="#000" font-family="'Liberation Sans', sans-serif" stroke="#000" stroke-width="0.25">1000</text>
<text transform="translate(138.70 358.30) rotate(-45)" font-size="10.6" text-anchor="end" fill="#000" font-family="'Liberation Sans', sans-serif" stroke="#000" stroke-width="0.25">2000</text>
<text transform="translate(163.30 358.30) rotate(-45)" font-size="10.6" text-anchor="end" fill="#000" font-family="'Liberation Sans', sans-serif" stroke="#000" stroke-width="0.25">4000</text>
<text transform="translate(187.80 358.30) rotate(-45)" font-size="10.6" text-anchor="end" fill="#000" font-family="'Liberation Sans', sans-serif" stroke="#000" stroke-width="0.25">8000</text>
<rect x="207.6" y="208" width="153.79999999999998" height="15" fill="#d9e6eb"/>
<rect x="207.6" y="223" width="153.79999999999998" height="126.60000000000002" fill="#ffffff"/>
<line x1="207.6" y1="232" x2="361.4" y2="232" stroke="#ebf2f4" stroke-width="1"/>
<line x1="207.6" y1="269.5" x2="361.4" y2="269.5" stroke="#ebf2f4" stroke-width="1"/>
<line x1="207.6" y1="306" x2="361.4" y2="306" stroke="#ebf2f4" stroke-width="1"/>
<line x1="207.6" y1="343" x2="361.4" y2="343" stroke="#ebf2f4" stroke-width="1"/>
<text x="284.50" y="219.00" font-size="11.4" text-anchor="middle" fill="#000" font-family="'Liberation Sans', sans-serif" stroke="#000" stroke-width="0.25">Overall</text>
<line x1="225.00" y1="240.40" x2="225.00" y2="316.00" stroke="#1a476f" stroke-width="1.0" opacity="0.85"/>
<rect x="222.80" y="250.90" width="4.40" height="36.60" fill="#1a476f"/>
<path d="M223.70 232.40C223.50 233.33 222.95 235.90 222.50 238.00C222.05 240.10 221.42 242.58 221.00 245.00C220.58 247.42 220.08 250.00 220.00 252.50C219.92 255.00 220.22 257.42 220.50 260.00C220.78 262.58 221.28 265.03 221.70 268.00C222.12 270.97 222.90 274.97 223.00 277.80C223.10 280.63 222.55 282.63 222.30 285.00C222.05 287.37 221.47 289.50 221.50 292.00C221.53 294.50 222.13 297.50 222.50 300.00C222.87 302.50 223.45 304.83 223.70 307.00C223.95 309.17 223.88 310.78 224.00 313.00C224.12 315.22 224.33 319.08 224.40 320.30M226.30 232.40C226.50 233.33 227.05 235.90 227.50 238.00C227.95 240.10 228.58 242.58 229.00 245.00C229.42 247.42 229.92 250.00 230.00 252.50C230.08 255.00 229.78 257.42 229.50 260.00C229.22 262.58 228.72 265.03 228.30 268.00C227.88 270.97 227.10 274.97 227.00 277.80C226.90 280.63 227.45 282.63 227.70 285.00C227.95 287.37 228.53 289.50 228.50 292.00C228.47 294.50 227.87 297.50 227.50 300.00C227.13 302.50 226.55 304.83 226.30 307.00C226.05 309.17 226.12 310.78 226.00 313.00C225.88 315.22 225.67 319.08 225.60 320.30" fill="none" stroke="#1a476f" stroke-width="1.2" stroke-linecap="round"/>
<line x1="249.60" y1="241.00" x2="249.60" y2="330.00" stroke="#1a476f" stroke-width="1.0" opacity="0.85"/>
<rect x="247.40" y="258.00" width="4.40" height="36.70" fill="#1a476f"/>
<path d="M249.00 230.80C248.93 231.67 248.92 233.97 248.60 236.00C248.28 238.03 247.60 240.67 247.10 243.00C246.60 245.33 246.02 247.50 245.60 250.00C245.18 252.50 244.75 255.50 244.60 258.00C244.45 260.50 244.62 263.00 244.70 265.00C244.78 267.00 244.83 268.17 245.10 270.00C245.37 271.83 245.97 274.17 246.30 276.00C246.63 277.83 247.00 279.00 247.10 281.00C247.20 283.00 246.97 285.50 246.90 288.00C246.83 290.50 246.60 293.33 246.70 296.00C246.80 298.67 247.20 301.33 247.50 304.00C247.80 306.67 248.32 309.67 248.50 312.00C248.68 314.33 248.50 313.83 248.60 318.00C248.70 322.17 249.02 333.83 249.10 337.00M250.20 230.80C250.27 231.67 250.28 233.97 250.60 236.00C250.92 238.03 251.60 240.67 252.10 243.00C252.60 245.33 253.18 247.50 253.60 250.00C254.02 252.50 254.45 255.50 254.60 258.00C254.75 260.50 254.58 263.00 254.50 265.00C254.42 267.00 254.37 268.17 254.10 270.00C253.83 271.83 253.23 274.17 252.90 276.00C252.57 277.83 252.20 279.00 252.10 281.00C252.00 283.00 252.23 285.50 252.30 288.00C252.37 290.50 252.60 293.33 252.50 296.00C252.40 298.67 252.00 301.33 251.70 304.00C251.40 306.67 250.88 309.67 250.70 312.00C250.52 314.33 250.70 313.83 250.60 318.00C250.50 322.17 250.18 333.83 250.10 337.00" fill="none" stroke="#1a476f" stroke-width="1.2" stroke-linecap="round"/>
<line x1="274.30" y1="243.70" x2="274.30" y2="333.00" stroke="#1a476f" stroke-width="1.0" opacity="0.85"/>
<rect x="272.10" y="258.00" width="4.40" height="39.90" fill="#1a476f"/>
<path d="M273.70 234.80C273.62 235.67 273.55 237.97 273.20 240.00C272.85 242.03 272.10 244.67 271.60 247.00C271.10 249.33 270.53 252.00 270.20 254.00C269.87 256.00 269.70 257.17 269.60 259.00C269.50 260.83 269.57 263.17 269.60 265.00C269.63 266.83 269.57 267.83 269.80 270.00C270.03 272.17 270.67 275.33 271.00 278.00C271.33 280.67 271.68 283.50 271.80 286.00C271.92 288.50 271.75 290.67 271.70 293.00C271.65 295.33 271.40 297.17 271.50 300.00C271.60 302.83 272.00 306.67 272.30 310.00C272.60 313.33 273.13 317.08 273.30 320.00C273.47 322.92 273.23 324.77 273.30 327.50C273.37 330.23 273.63 334.92 273.70 336.40M274.90 234.80C274.98 235.67 275.05 237.97 275.40 240.00C275.75 242.03 276.50 244.67 277.00 247.00C277.50 249.33 278.07 252.00 278.40 254.00C278.73 256.00 278.90 257.17 279.00 259.00C279.10 260.83 279.03 263.17 279.00 265.00C278.97 266.83 279.03 267.83 278.80 270.00C278.57 272.17 277.93 275.33 277.60 278.00C277.27 280.67 276.92 283.50 276.80 286.00C276.68 288.50 276.85 290.67 276.90 293.00C276.95 295.33 277.20 297.17 277.10 300.00C277.00 302.83 276.60 306.67 276.30 310.00C276.00 313.33 275.47 317.08 275.30 320.00C275.13 322.92 275.37 324.77 275.30 327.50C275.23 330.23 274.97 334.92 274.90 336.40" fill="none" stroke="#1a476f" stroke-width="1.2" stroke-linecap="round"/>
<line x1="298.90" y1="247.70" x2="298.90" y2="332.00" stroke="#1a476f" stroke-width="1.0" opacity="0.85"/>
<rect x="296.70" y="265.60" width="4.40" height="33.40" fill="#1a476f"/>
<path d="M298.10 242.90C298.07 243.58 298.18 245.32 297.90 247.00C297.62 248.68 296.92 250.83 296.40 253.00C295.88 255.17 295.28 257.42 294.80 260.00C294.32 262.58 293.60 266.00 293.50 268.50C293.40 271.00 293.92 273.08 294.20 275.00C294.48 276.92 294.92 278.33 295.20 280.00C295.48 281.67 295.70 282.50 295.90 285.00C296.10 287.50 296.23 290.83 296.40 295.00C296.57 299.17 296.73 305.00 296.90 310.00C297.07 315.00 297.23 320.83 297.40 325.00C297.57 329.17 297.82 333.33 297.90 335.00M299.70 242.90C299.73 243.58 299.62 245.32 299.90 247.00C300.18 248.68 300.88 250.83 301.40 253.00C301.92 255.17 302.52 257.42 303.00 260.00C303.48 262.58 304.20 266.00 304.30 268.50C304.40 271.00 303.88 273.08 303.60 275.00C303.32 276.92 302.88 278.33 302.60 280.00C302.32 281.67 302.10 282.50 301.90 285.00C301.70 287.50 301.57 290.83 301.40 295.00C301.23 299.17 301.07 305.00 300.90 310.00C300.73 315.00 300.57 320.83 300.40 325.00C300.23 329.17 299.98 333.33 299.90 335.00" fill="none" stroke="#1a476f" stroke-width="1.2" stroke-linecap="round"/>
<line x1="323.60" y1="250.00" x2="323.60" y2="332.00" stroke="#1a476f" stroke-width="1.0" opacity="0.85"/>
<rect x="321.40" y="269.30" width="4.40" height="32.20" fill="#1a476f"/>
<path d="M323.10 234.80C323.05 236.67 322.97 243.13 322.80 246.00C322.63 248.87 322.52 249.67 322.10 252.00C321.68 254.33 320.80 257.67 320.30 260.00C319.80 262.33 319.45 264.05 319.10 266.00C318.75 267.95 318.20 269.70 318.20 271.70C318.20 273.70 318.75 275.95 319.10 278.00C319.45 280.05 320.00 281.67 320.30 284.00C320.60 286.33 320.75 289.08 320.90 292.00C321.05 294.92 321.05 297.67 321.20 301.50C321.35 305.33 321.60 310.58 321.80 315.00C322.00 319.42 322.27 324.50 322.40 328.00C322.53 331.50 322.57 334.67 322.60 336.00M324.10 234.80C324.15 236.67 324.23 243.13 324.40 246.00C324.57 248.87 324.68 249.67 325.10 252.00C325.52 254.33 326.40 257.67 326.90 260.00C327.40 262.33 327.75 264.05 328.10 266.00C328.45 267.95 329.00 269.70 329.00 271.70C329.00 273.70 328.45 275.95 328.10 278.00C327.75 280.05 327.20 281.67 326.90 284.00C326.60 286.33 326.45 289.08 326.30 292.00C326.15 294.92 326.15 297.67 326.00 301.50C325.85 305.33 325.60 310.58 325.40 315.00C325.20 319.42 324.93 324.50 324.80 328.00C324.67 331.50 324.63 334.67 324.60 336.00" fill="none" stroke="#1a476f" stroke-width="1.2" stroke-linecap="round"/>
<line x1="348.50" y1="255.00" x2="348.50" y2="328.70" stroke="#1a476f" stroke-width="1.0" opacity="0.85"/>
<rect x="346.30" y="269.30" width="4.40" height="33.00" fill="#1a476f"/>
<path d="M347.70 230.80C347.67 234.17 347.70 246.47 347.50 251.00C347.30 255.53 346.98 255.67 346.50 258.00C346.02 260.33 345.17 262.45 344.60 265.00C344.03 267.55 343.20 270.80 343.10 273.30C343.00 275.80 343.65 277.72 344.00 280.00C344.35 282.28 344.87 284.50 345.20 287.00C345.53 289.50 345.77 292.50 346.00 295.00C346.23 297.50 346.35 300.00 346.60 302.00C346.85 304.00 347.35 305.33 347.50 307.00C347.65 308.67 347.62 310.17 347.50 312.00C347.38 313.83 347.08 315.88 346.80 318.00C346.52 320.12 345.87 322.53 345.80 324.70C345.73 326.87 346.12 329.00 346.40 331.00C346.68 333.00 347.32 335.75 347.50 336.70M349.30 230.80C349.33 234.17 349.30 246.47 349.50 251.00C349.70 255.53 350.02 255.67 350.50 258.00C350.98 260.33 351.83 262.45 352.40 265.00C352.97 267.55 353.80 270.80 353.90 273.30C354.00 275.80 353.35 277.72 353.00 280.00C352.65 282.28 352.13 284.50 351.80 287.00C351.47 289.50 351.23 292.50 351.00 295.00C350.77 297.50 350.65 300.00 350.40 302.00C350.15 304.00 349.65 305.33 349.50 307.00C349.35 308.67 349.38 310.17 349.50 312.00C349.62 313.83 349.92 315.88 350.20 318.00C350.48 320.12 351.13 322.53 351.20 324.70C351.27 326.87 350.88 329.00 350.60 331.00C350.32 333.00 349.68 335.75 349.50 336.70" fill="none" stroke="#1a476f" stroke-width="1.2" stroke-linecap="round"/>
<polyline points="225.00,262.11 249.60,265.65 274.30,269.35 298.90,276.85 323.60,280.65 348.50,280.55" fill="none" stroke="#ff1a0a" stroke-width="1.0"/>
<polygon points="225.00,258.10 220.80,264.00 229.20,264.00" fill="#ff0000"/>
<polygon points="249.60,261.30 245.40,267.70 253.80,267.70" fill="#ff0000"/>
<polygon points="274.30,265.00 270.10,271.40 278.50,271.40" fill="#ff0000"/>
<polygon points="298.90,272.50 294.70,278.90 303.10,278.90" fill="#ff0000"/>
<polygon points="323.60,276.50 319.40,282.60 327.80,282.60" fill="#ff0000"/>
<polygon points="348.50,276.20 344.30,282.60 352.70,282.60" fill="#ff0000"/>
<line x1="207.0" y1="350.0" x2="361.4" y2="350.0" stroke="#5a5a5a" stroke-width="1.1"/>
<text transform="translate(227.90 358.30) rotate(-45)" font-size="10.6" text-anchor="end" fill="#000" font-family="'Liberation Sans', sans-serif" stroke="#000" stroke-width="0.25">250</text>
<text transform="translate(252.50 358.30) rotate(-45)" font-size="10.6" text-anchor="end" fill="#000" font-family="'Liberation Sans', sans-serif" stroke="#000" stroke-width="0.25">500</text>
<text transform="translate(277.20 358.30) rotate(-45)" font-size="10.6" text-anchor="end" fill="#000" font-family="'Liberation Sans', sans-serif" stroke="#000" stroke-width="0.25">1000</text>
<text transform="translate(301.80 358.30) rotate(-45)" font-size="10.6" text-anchor="end" fill="#000" font-family="'Liberation Sans', sans-serif" stroke="#000" stroke-width="0.25">2000</text>
<text transform="translate(326.50 358.30) rotate(-45)" font-size="10.6" text-anchor="end" fill="#000" font-family="'Liberation Sans', sans-serif" stroke="#000" stroke-width="0.25">4000</text>
<text transform="translate(351.40 358.30) rotate(-45)" font-size="10.6" text-anchor="end" fill="#000" font-family="'Liberation Sans', sans-serif" stroke="#000" stroke-width="0.25">8000</text>
<text x="354.9" y="368.6" font-size="12" fill="#000" font-family="'Liberation Sans', sans-serif" stroke="#000" stroke-width="0.25">Hz</text>
</svg>
</body></html>
